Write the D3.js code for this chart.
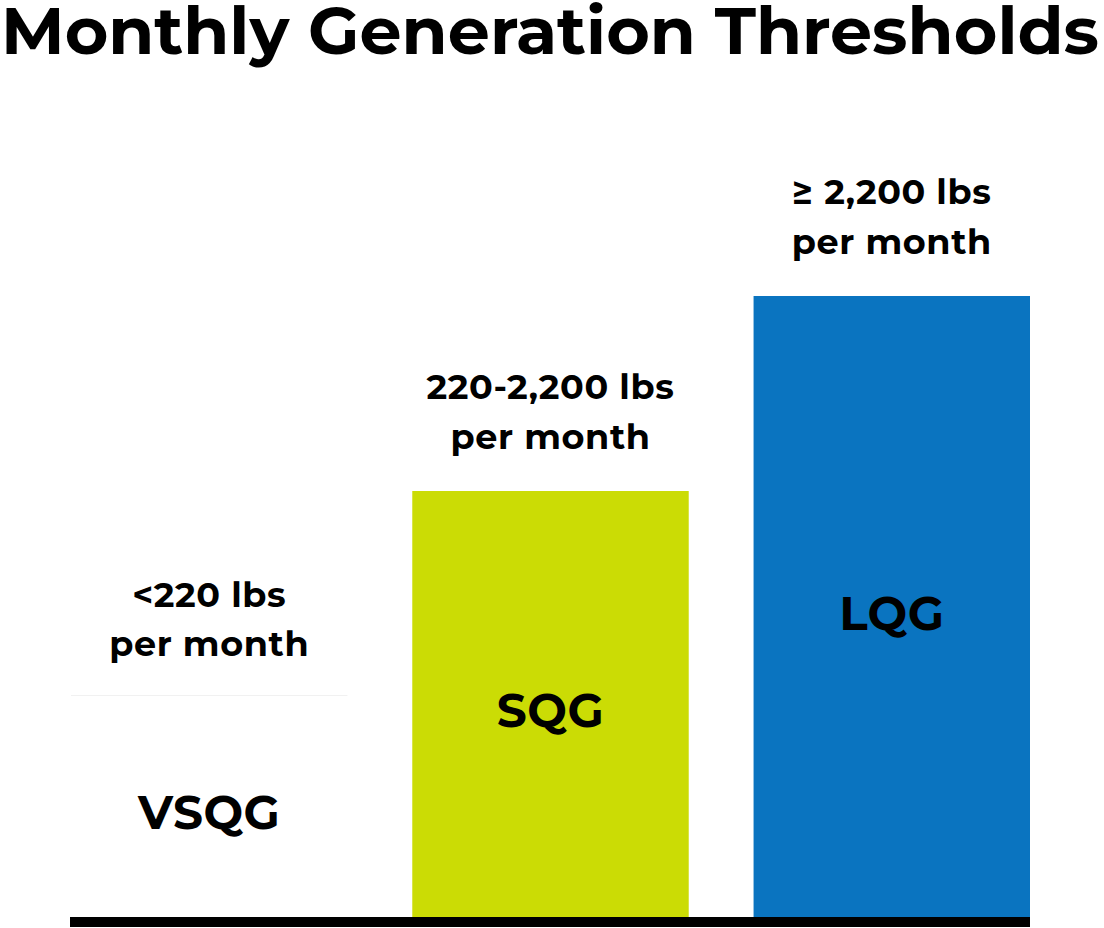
<!DOCTYPE html>
<html>
<head>
<meta charset="utf-8">
<script src="https://cdn.jsdelivr.net/npm/d3@7"></script>
<style>
  html, body { margin: 0; padding: 0; background: #fff; }
  svg { display: block; }
  text { font-family: Montserrat, "DejaVu Sans", sans-serif; font-weight: 700; fill: #000; }
</style>
</head>
<body>
<svg id="chart" width="1104" height="928"></svg>
<script>
const title = 'Monthly Generation Thresholds';
const categories = ['VSQG', 'SQG', 'LQG'];
// relative bar heights as drawn (no axis shown)
const values = [222, 426, 621];
const rangeLine1 = ['<220 lbs', '220-2,200 lbs', '\u2265 2,200 lbs'];
const rangeLine2 = ['per month', 'per month', 'per month'];
const colors = ['#ffffff', '#cbdc05', '#0a74c0'];

const width = 1104,
  height = 928,
  baseY = 917;

const svg = d3.select('#chart');

const x = d3.scaleBand()
  .domain(categories)
  .range([71, 1030])
  .paddingInner(0.19)
  .paddingOuter(0);

const y = d3.scaleLinear()
  .domain([0, d3.max(values)])
  .range([baseY, 296]);

const data = categories.map((c, i) => ({
  cat: c,
  value: values[i],
  l1: rangeLine1[i],
  l2: rangeLine2[i],
  color: colors[i]
}));

// title
svg.append('text')
  .attr('x', 1)
  .attr('y', 54)
  .attr('textLength', 1098)
  .attr('lengthAdjust', 'spacingAndGlyphs')
  .style('font-size', '65px')
  .text(title);

const g = svg.selectAll('g.bar')
  .data(data)
  .join('g')
  .attr('class', 'bar');

g.append('rect')
  .attr('x', d => x(d.cat))
  .attr('y', d => y(d.value))
  .attr('width', x.bandwidth())
  .attr('height', d => baseY - y(d.value))
  .attr('fill', d => d.color);

// faint outline on top of the white bar
g.filter(d => d.color === '#ffffff')
  .append('line')
  .attr('x1', d => x(d.cat))
  .attr('x2', d => x(d.cat) + x.bandwidth())
  .attr('y1', d => y(d.value) + 0.5)
  .attr('y2', d => y(d.value) + 0.5)
  .attr('stroke', '#f1f1f1')
  .attr('stroke-width', 1);

// bar names
g.append('text')
  .attr('x', d => x(d.cat) + x.bandwidth() / 2)
  .attr('y', d => (y(d.value) + baseY) / 2 + 23)
  .attr('text-anchor', 'middle')
  .style('font-size', '47px')
  .style('letter-spacing', '0.5px')
  .text(d => d.cat);

// range labels above bars
g.append('text')
  .attr('x', d => x(d.cat) + x.bandwidth() / 2)
  .attr('y', (d, i) => y(d.value) - (i === 0 ? 88 : 92))
  .attr('text-anchor', 'middle')
  .style('font-size', '35px')
  .style('letter-spacing', '0.6px')
  .text(d => d.l1);

g.append('text')
  .attr('x', d => x(d.cat) + x.bandwidth() / 2)
  .attr('y', (d, i) => y(d.value) - (i === 0 ? 39 : 42))
  .attr('text-anchor', 'middle')
  .style('font-size', '35px')
  .style('letter-spacing', '0.6px')
  .text(d => d.l2);

// baseline
svg.append('rect')
  .attr('x', x.range()[0] - 1)
  .attr('y', baseY)
  .attr('width', x.range()[1] - x.range()[0] + 1)
  .attr('height', 10)
  .attr('fill', '#000');
</script>
</body>
</html>
